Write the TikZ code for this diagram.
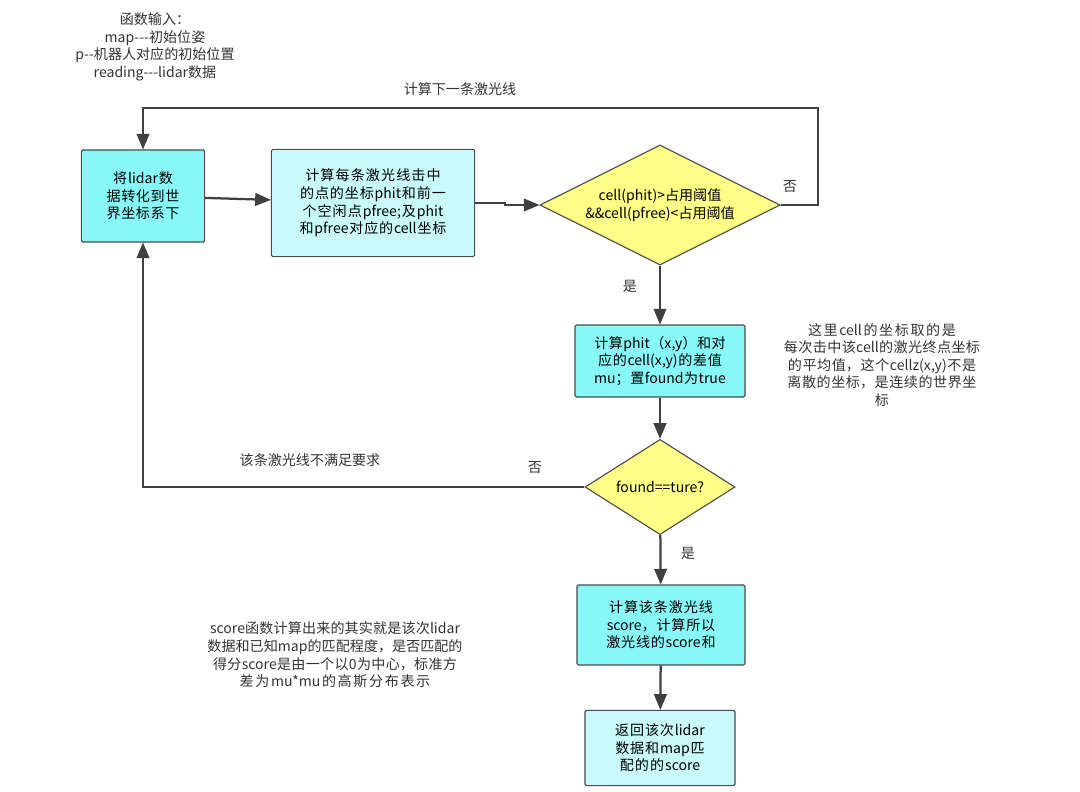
\documentclass[tikz,border=0pt]{standalone}
\usepackage{fontspec}
\setmainfont{Noto Sans CJK SC}
\XeTeXlinebreaklocale "zh"
\XeTeXlinebreakskip = 0pt plus 1pt
\usetikzlibrary{arrows,shapes.geometric}
\definecolor{cellCyan}{HTML}{88F7F7}
\definecolor{cellPale}{HTML}{C8FAFA}
\definecolor{choiceYellow}{HTML}{FFFF88}

\begin{document}
\begin{tikzpicture}[x=0.025cm,y=-0.025cm,>=triangle 45]
  \tikzset{every node/.style={font={\fontsize{10}{12.5}\selectfont}, align=center}}
  \tikzstyle{box} = [draw=black!70, thick, rectangle, rounded corners=1pt, inner sep=2pt]
  \tikzstyle{boxA} = [box, fill=cellCyan]
  \tikzstyle{boxB} = [box, fill=cellPale]
  \tikzstyle{decide} = [draw=black!70, thick, diamond, fill=choiceYellow, aspect=2, inner sep=0pt]
  \tikzstyle{flow} = [draw=black!75, line width=1.6pt, ->];
  \tikzstyle{note} = [text=black!80];

  \useasboundingbox (0,0) rectangle (1080,791);

  \node[boxA, minimum width=3.08cm, minimum height=2.3cm, text width=2.4cm] (toWorld) at (143,196) {将lidar数据转化到世界坐标系下};
  \node[boxB, minimum width=5.08cm, minimum height=2.68cm, text width=4.5cm] (getCell) at (373,203) {计算每条激光线击中的点的坐标phit和前一个空闲点pfree;及phit和pfree对应的cell坐标};
  \node[decide, minimum width=6cm, minimum height=3cm] (occ) at (660,205) {cell(phit)>占用阈值\\\&\&cell(pfree)<占用阈值};
  \node[boxA, minimum width=4.25cm, minimum height=1.8cm, text width=3.8cm] (diff) at (660,361) {计算phit（x,y）和对应的cell(x,y)的差值mu；置found为true};
  \node[decide, minimum width=3.75cm, minimum height=2.38cm] (found) at (660,487) {found==ture?};
  \node[boxA, minimum width=4.2cm, minimum height=2cm, text width=3.5cm] (score) at (661,625) {计算该条激光线score，计算所以激光线的score和};
  \node[boxB, minimum width=3.75cm, minimum height=1.88cm, text width=3.1cm] (ret) at (660,748) {返回该次lidar数据和map匹配的的score};

  \coordinate (nextR) at (818,205);
  \coordinate (nextT) at (818,108);
  \coordinate (nextL) at (143,108);
  \coordinate (failL) at (143,487);

  \draw[flow] (toWorld) -- (getCell);
  \draw[flow] (getCell.east) -- ++(30,0) |- (occ.west);
  \draw[flow] (occ.east) -- (nextR) -- (nextT) -- (nextL) -- (toWorld.north);
  \draw[flow] (occ) -- (diff);
  \draw[flow] (diff) -- (found);
  \draw[flow] (found.west) -- (failL) -- (toWorld.south);
  \draw[flow] (found) -- (score);
  \draw[flow] (score) -- (ret);

  \node[note] (input) at (155,47) {函数输入：\\map{-}{-}{-}初始位姿\\p{-}{-}机器人对应的初始位置\\reading{-}{-}{-}lidar数据};
  \node[note] (nextLbl) at (460,89) {计算下一条激光线};
  \node[note] (noA) at (790,187) {否};
  \node[note] (yesA) at (630,286) {是};
  \node[note, text width=5.3cm] (cellNote) at (882,365) {这里cell的坐标取的是\\每次击中该cell的激光终点坐标\\的平均值，这个cellz(x,y)不是\\离散的坐标，是连续的世界坐\\标};
  \node[note] (failLbl) at (310,460) {该条激光线不满足要求};
  \node[note] (noB) at (535,468) {否};
  \node[note] (yesB) at (688,553) {是};
  \node[note, text width=6.4cm] (scoreNote) at (335,655) {score函数计算出来的其实就是该次lidar\\数据和已知map的匹配程度，是否匹配的\\得分score是由一个以0为中心，标准方\\差为mu*mu的高斯分布表示};
\end{tikzpicture}
\end{document}
